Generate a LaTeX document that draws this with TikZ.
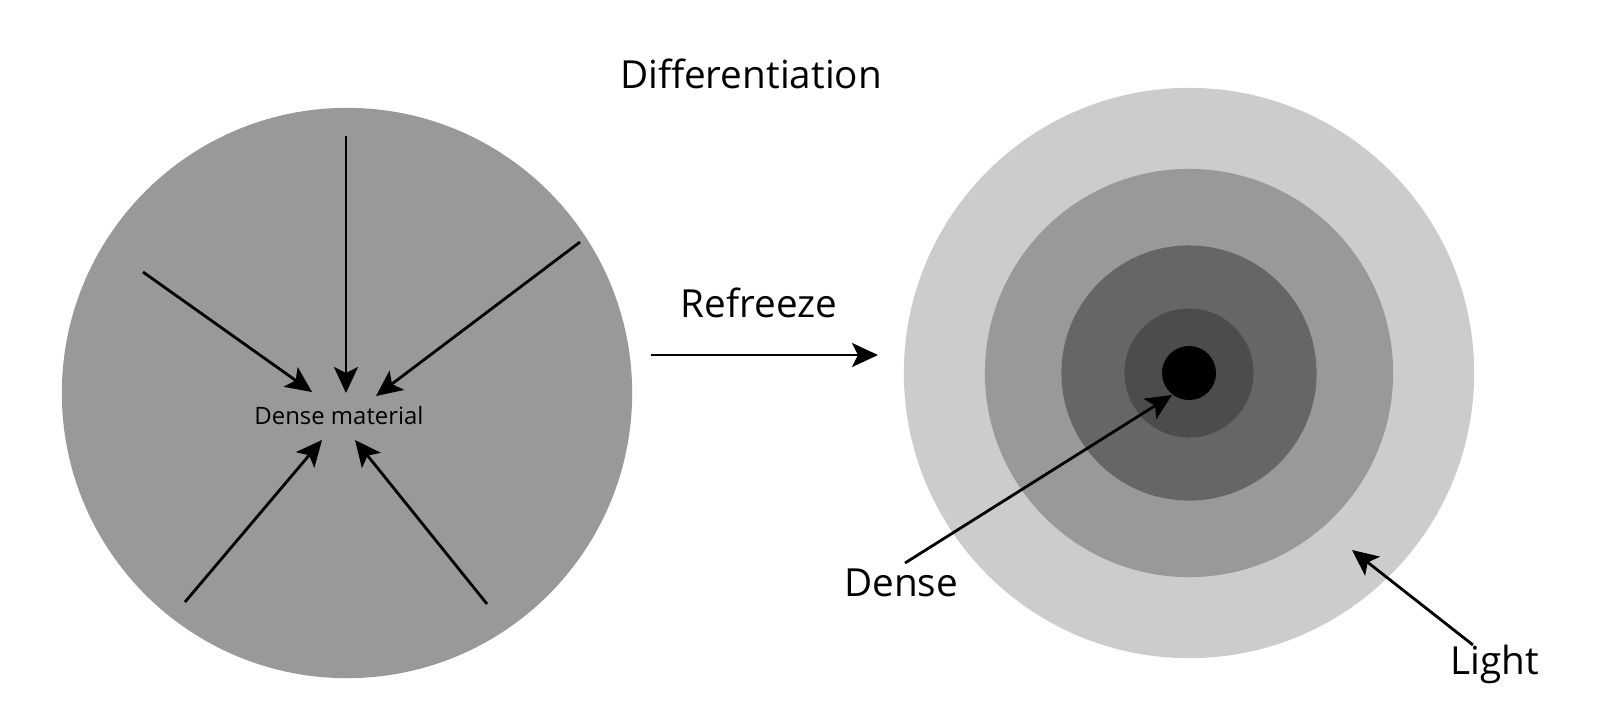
\documentclass[tikz,border=0pt]{standalone}
\usepackage{fontspec}
\setmainfont{Open Sans}
\usetikzlibrary{positioning}
\usetikzlibrary{arrows.meta}

\begin{document}
\begin{tikzpicture}[
x=0.01cm, y=-0.01cm,
ball/.style={circle, inner sep=0pt, draw=none},
flow/.style={-{Stealth[length=2.6mm, width=2.4mm, inset=0.6mm]}, line width=0.8pt},
biglabel/.style={font=\fontsize{11}{13}\selectfont},
smalllabel/.style={font=\fontsize{6.8}{8}\selectfont},
]
\useasboundingbox (0,0) rectangle (1600,717);

%Left body
\node[ball, fill=black!40, minimum size=5.7cm] (body) at (347,393) {};
\node[smalllabel] (dense) at (339,416) {Dense material};

\coordinate (n)  at (346,136);
\coordinate (nw) at (143,272);
\coordinate (ne) at (580,242);
\coordinate (sw) at (185,602);
\coordinate (se) at (487,604);

%Right body
\node[ball, fill=black!20, minimum size=5.7cm]  (crust)  at (1189,373) {};
\node[ball, fill=black!40, minimum size=4.08cm] (mantle) at (1189,373) {};
\node[ball, fill=black!60, minimum size=2.55cm] (outer)  at (1189,373) {};
\node[ball, fill=black!70, minimum size=1.29cm] (inner)  at (1189,373) {};
\node[ball, fill=black,    minimum size=0.54cm] (core)   at (1189,373) {};

%Labels
\node[biglabel] (title)    at (751,74)   {Differentiation};
\node[biglabel] (refreeze) at (759,303)  {Refreeze};
\node[biglabel] (dlabel)   at (901,583)  {Dense};
\node[biglabel] (llabel)   at (1495,664) {Light};

\coordinate (rstart) at (651,355);
\coordinate (rend)   at (878,355);
\coordinate (dtail)  at (905,563);
\coordinate (dtip)   at (1172,395);
\coordinate (ltail)  at (1473,645);
\coordinate (ltip)   at (1352,550);

%Lines
\draw[flow] (n)  -- (346,393);
\draw[flow] (nw) -- (312,392);
\draw[flow] (ne) -- (376,396);
\draw[flow] (sw) -- (322,440);
\draw[flow] (se) -- (355,440);
\draw[flow] (rstart) -- (rend);
\draw[flow] (dtail) -- (dtip);
\draw[flow] (ltail) -- (ltip);
\end{tikzpicture}
\end{document}
